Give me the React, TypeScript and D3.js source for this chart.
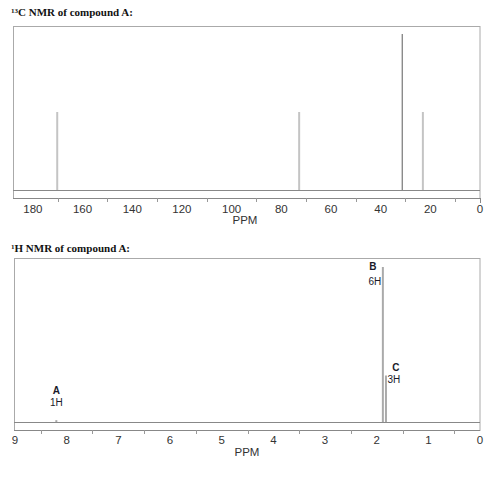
import React from "react";
import * as d3 from "d3";

// 13C spectrum data
const c13Shifts = [170.2, 72.8, 31.3, 23.0];
const c13Intensity = [0.5, 0.5, 1.0, 0.5];
const c13Strong = [false, false, true, false];
const c13Labels = [180, 160, 140, 120, 100, 80, 60, 40, 20, 0];
const c13MinorTicks = [170, 150, 130, 110, 90, 70, 50, 30, 10];

// 1H spectrum data
const h1Shifts = [8.2, 1.88, 1.82];
const h1Intensity = [0.012, 1.0, 0.3];
const h1Names = ["A", "B", "C"];
const h1Integrals = ["1H", "6H", "3H"];
const h1LabelSide = ["center", "left", "right"];
const h1Labels = [9, 8, 7, 6, 5, 4, 3, 2, 1, 0];
const h1MinorTicks = [8.5, 7.5, 6.5, 5.5, 4.5, 3.5, 2.5, 1.5, 0.5];

const SANS = "'Liberation Sans', Arial, sans-serif";
const SERIF = "'Liberation Serif', 'Times New Roman', serif";

export default function App() {
  // 13C geometry
  const cx = d3.scaleLinear().domain([188, 0]).range([13, 480]);
  const cy = d3.scaleLinear().domain([0, 1]).range([190, 34]);
  const cTop = 26, cBase = 190, cAxis = 198;

  // 1H geometry
  const hx = d3.scaleLinear().domain([9, 0]).range([15, 480]);
  const hy = d3.scaleLinear().domain([0, 1]).range([422, 267]);
  const hTop = 258, hBase = 422, hAxis = 430;

  return (
    <svg
      width={495}
      height={478}
      style={{ position: "absolute", left: 0, top: 0, background: "#fff" }}
    >
      {/* 13C title */}
      <text x={11} y={16} fontFamily={SERIF} fontWeight="bold" fontSize={11} fill="#111">
        <tspan fontSize={7} dy={-3}>13</tspan>
        <tspan dy={3}>C NMR of compound A:</tspan>
      </text>

      {/* 13C frame */}
      <rect x={13.5} y={cTop + 0.5} width={466.5} height={cAxis - cTop} fill="none" stroke="#aaa" strokeWidth={1} />
      <line x1={13} x2={480} y1={cBase + 0.5} y2={cBase + 0.5} stroke="#888" />
      <line x1={13} x2={480} y1={cAxis + 0.5} y2={cAxis + 0.5} stroke="#888" />
      <line x1={480.5} x2={480.5} y1={cAxis} y2={cAxis + 5} stroke="#888" />
      {c13MinorTicks.map((t) => (
        <line key={t} x1={Math.round(cx(t)) + 0.5} x2={Math.round(cx(t)) + 0.5} y1={cAxis} y2={cAxis + 4} stroke="#999" />
      ))}
      {c13Labels.map((t) => (
        <text key={t} x={cx(t)} y={213} textAnchor="middle" fontFamily={SANS} fontSize={11.5} fill="#333">
          {t}
        </text>
      ))}
      <text x={245} y={224} textAnchor="middle" fontFamily={SANS} fontSize={11.5} fill="#333">PPM</text>

      {/* 13C peaks */}
      {c13Shifts.map((s, i) => (
        <line
          key={s}
          x1={cx(s)}
          x2={cx(s)}
          y1={cBase}
          y2={cy(c13Intensity[i])}
          stroke={c13Strong[i] ? "#777" : "#c4c4c4"}
          strokeWidth={c13Strong[i] ? 1.2 : 2}
        />
      ))}

      {/* 1H title */}
      <text x={11} y={252} fontFamily={SERIF} fontWeight="bold" fontSize={11} fill="#111">
        <tspan fontSize={7} dy={-3}>1</tspan>
        <tspan dy={3}>H NMR of compound A:</tspan>
      </text>

      {/* 1H frame */}
      <rect x={14.5} y={hTop + 0.5} width={465.5} height={hAxis - hTop} fill="none" stroke="#aaa" strokeWidth={1} />
      <line x1={14} x2={480} y1={hBase + 0.5} y2={hBase + 0.5} stroke="#888" />
      <line x1={14} x2={480} y1={hAxis + 0.5} y2={hAxis + 0.5} stroke="#888" />
      {h1MinorTicks.map((t) => (
        <line key={t} x1={Math.round(hx(t)) + 0.5} x2={Math.round(hx(t)) + 0.5} y1={hAxis} y2={hAxis + 4} stroke="#999" />
      ))}
      {h1Labels.map((t) => (
        <text key={t} x={hx(t)} y={444} textAnchor="middle" fontFamily={SANS} fontSize={11.5} fill="#333">
          {t}
        </text>
      ))}
      <text x={247} y={456} textAnchor="middle" fontFamily={SANS} fontSize={11.5} fill="#333">PPM</text>

      {/* 1H peaks */}
      {h1Shifts.map((s, i) => (
        <line
          key={s}
          x1={hx(s)}
          x2={hx(s)}
          y1={hBase}
          y2={hy(h1Intensity[i])}
          stroke="#aaa"
          strokeWidth={2}
        />
      ))}

      {/* 1H peak labels */}
      {h1Shifts.map((s, i) => {
        const side = h1LabelSide[i];
        const px = hx(s);
        const top = hy(h1Intensity[i]);
        let lx = px, ly = top - 26;
        if (side === "left") { lx = px - 10; ly = top + 3; }
        if (side === "right") { lx = px + 10; ly = top - 5; }
        return (
          <g key={h1Names[i]}>
            <text x={lx} y={ly} textAnchor="middle" fontFamily={SANS} fontWeight="bold" fontSize={10} fill="#1a1a2a">
              {h1Names[i]}
            </text>
            <text x={lx + (side === "right" ? -2 : side === "left" ? 2 : 0)} y={ly + (side === "left" ? 15 : 12)} textAnchor="middle" fontFamily={SANS} fontSize={10} fill="#1a1a2a">
              {h1Integrals[i]}
            </text>
          </g>
        );
      })}
    </svg>
  );
}
